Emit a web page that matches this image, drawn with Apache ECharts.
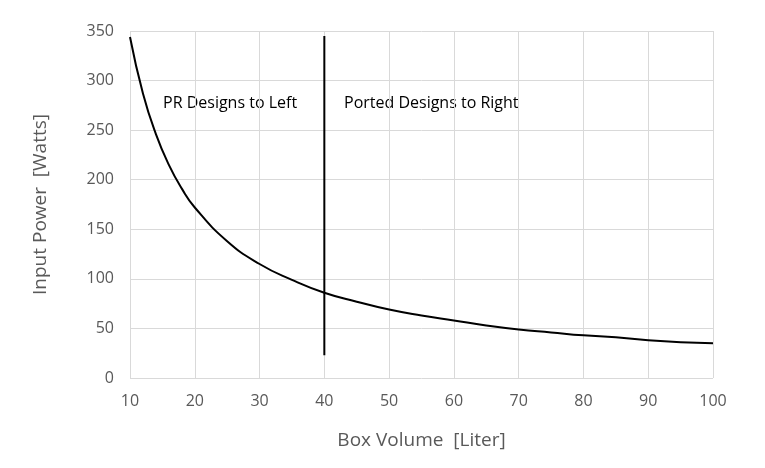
<!DOCTYPE html>
<html><head><meta charset="utf-8">
<script src="https://cdn.jsdelivr.net/npm/echarts@6/dist/echarts.min.js"></script>
<style>html,body{margin:0;padding:0;background:#fff}#c{width:765px;height:468px}</style>
</head><body><div id="c"></div>
<script>
const volumes = [10,12,14,16,18,20,25,30,35,40,45,50,55,60,65,70,75,80,85,90,95,100];
const power = [344,287,246,215,191,172,138,115,99,86,77,69,63,58,53,49,46,43,41,38,36,35];
const dividerX = [40,40];
const dividerY = [23,345];
const fontFamily = "Open Sans, Noto Sans, sans-serif";
const chart = echarts.init(document.getElementById('c'));
chart.setOption({
  animation:false,
  grid:{left:130,right:52,top:31,bottom:90},
  xAxis:{type:'value',min:10,max:100,interval:10,name:'Box Volume  [Liter]',nameLocation:'middle',nameGap:53,
    nameTextStyle:{fontSize:19,color:'#595959',fontFamily},
    axisLine:{show:false},axisTick:{show:false},
    axisLabel:{fontSize:16,color:'#595959',fontFamily,margin:15},
    splitLine:{lineStyle:{color:'#d9d9d9'}}},
  yAxis:{type:'value',min:0,max:350,interval:50,name:'Input Power  [Watts]',nameLocation:'middle',nameGap:80,
    nameTextStyle:{fontSize:19,color:'#595959',fontFamily},
    axisLine:{show:false},axisTick:{show:false},
    axisLabel:{fontSize:16,color:'#595959',fontFamily,margin:16},
    splitLine:{lineStyle:{color:'#d9d9d9'}}},
  series:[
    {type:'line',smooth:true,showSymbol:false,data:volumes.map((v,i)=>[v,power[i]]),lineStyle:{color:'#000',width:2}},
    {type:'line',showSymbol:false,data:dividerX.map((v,i)=>[v,dividerY[i]]),lineStyle:{color:'#000',width:2}}
  ],
  graphic:[
    {type:'text',left:163,top:95,style:{text:'PR Designs to Left',fontSize:16,fill:'#000',fontFamily}},
    {type:'text',left:344,top:95,style:{text:'Ported Designs to Right',fontSize:16,fill:'#000',fontFamily}}
  ]
});
</script></body></html>
